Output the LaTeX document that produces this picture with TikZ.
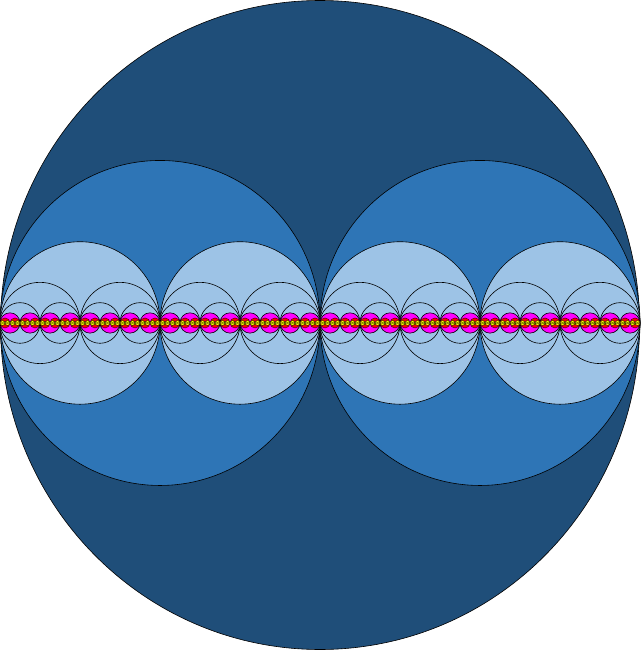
\documentclass[tikz,border=0pt]{standalone}
\definecolor{c0}{HTML}{1F4E79}
\definecolor{c1}{HTML}{2E75B6}
\definecolor{c2}{HTML}{9DC3E6}
\definecolor{c5}{HTML}{FF00FF}
\definecolor{c6}{HTML}{FF0000}
\definecolor{c7}{HTML}{FFFF00}
\begin{document}
\begin{tikzpicture}[x=1pt,y=-1.0156pt,circ/.style={draw=black,line width=0.6pt}]
\useasboundingbox (0,0) rectangle (640,640);
\draw[circ,fill=c0] (320,320) circle[radius=319.5];
\foreach \k/\c in {1/c1,2/c2,3/c2,4/c2,5/c5,6/c6,7/c7,8/c7}{
  \pgfmathtruncatemacro{\n}{2^\k}
  \pgfmathsetmacro{\r}{320/\n}
  \pgfmathtruncatemacro{\m}{\n-1}
  \foreach \i in {0,...,\m}{
    \pgfmathsetmacro{\xx}{\r*(2*\i+1)}
    \draw[circ,fill=\c,line width={\k<6 ? 0.6pt : 0.3pt}] (\xx,318) circle[x radius=\r, y radius=\r];
  }
}
\end{tikzpicture}
\end{document}
